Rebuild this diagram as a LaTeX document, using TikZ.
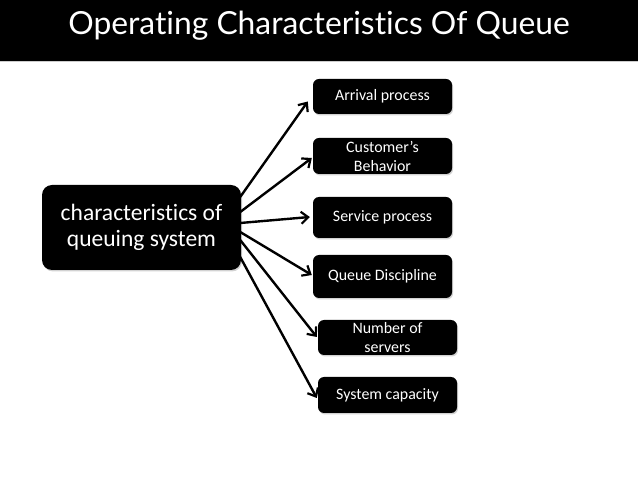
\documentclass[tikz,border=0pt]{standalone}
\usepackage{fontspec}
\setmainfont{Carlito}[Ligatures=NoCommon]
\newfontfamily\titlefont{Lato}[Ligatures=NoCommon]
\usetikzlibrary{arrows.meta,shadows}
\begin{document}
\begin{tikzpicture}[x=1pt,y=-1pt,
  box/.style={fill=black,text=white,rounded corners=6pt,align=center,
    font=\fontsize{15.9}{19}\selectfont,inner sep=0pt,
    drop shadow={opacity=0.35,shadow xshift=1pt,shadow yshift=-1.5pt,fill=gray}},
  bigbox/.style={box,rounded corners=10pt,font=\fontsize{23.5}{25.5}\selectfont},
  conn/.style={draw=black,line width=2.4pt,-{Straight Barb[length=7pt,width=12pt,line width=2.2pt]}}]
\useasboundingbox (0,0) rectangle (638,478);
\fill[white] (0,0) rectangle (638,478);
\fill[black] (0,0) rectangle (638,61);
\draw[gray!40,line width=1pt] (0,61.5) -- (638,61.5);
\node[text=white,font=\titlefont\fontsize{31.8}{36}\selectfont] (title) at (319,26) {Operating Characteristics Of Queue};
\node[bigbox,minimum width=199pt,minimum height=85pt] (main) at (141.5,227.5) {characteristics of\\queuing system};
\node[box,minimum width=139pt,minimum height=35pt] (b1) at (382.5,96.5) {Arrival process};
\node[box,minimum width=139pt,minimum height=36pt] (b2) at (382.5,156) {Customer’s\\Behavior};
\node[box,minimum width=139pt,minimum height=41pt] (b3) at (382.5,217.5) {Service process};
\node[box,minimum width=139pt,minimum height=43pt] (b4) at (382.5,276.5) {Queue Discipline};
\node[box,minimum width=139pt,minimum height=35pt] (b5) at (387.5,337.5) {Number of\\servers};
\node[box,minimum width=139pt,minimum height=36pt] (b6) at (387.5,395) {System capacity};
\draw[conn] ([xshift=-1pt,yshift=30.5pt]main.east) -- ([xshift=-5pt,yshift=-5pt]b1.west);
\draw[conn] ([xshift=-1pt,yshift=15.5pt]main.east) -- ([xshift=-1pt,yshift=-2pt]b2.west);
\draw[conn] ([xshift=-1pt,yshift=4.5pt]main.east) -- ([xshift=-3pt,yshift=0.5pt]b3.west);
\draw[conn] ([xshift=-1pt,yshift=-4.5pt]main.east) -- ([xshift=-1pt,yshift=1.5pt]b4.west);
\draw[conn] ([xshift=-1pt,yshift=-12.5pt]main.east) -- ([xshift=-1pt,yshift=0.5pt]b5.west);
\draw[conn] ([xshift=-1pt,yshift=-29.5pt]main.east) -- ([xshift=-1pt,yshift=-3pt]b6.west);
\end{tikzpicture}
\end{document}
